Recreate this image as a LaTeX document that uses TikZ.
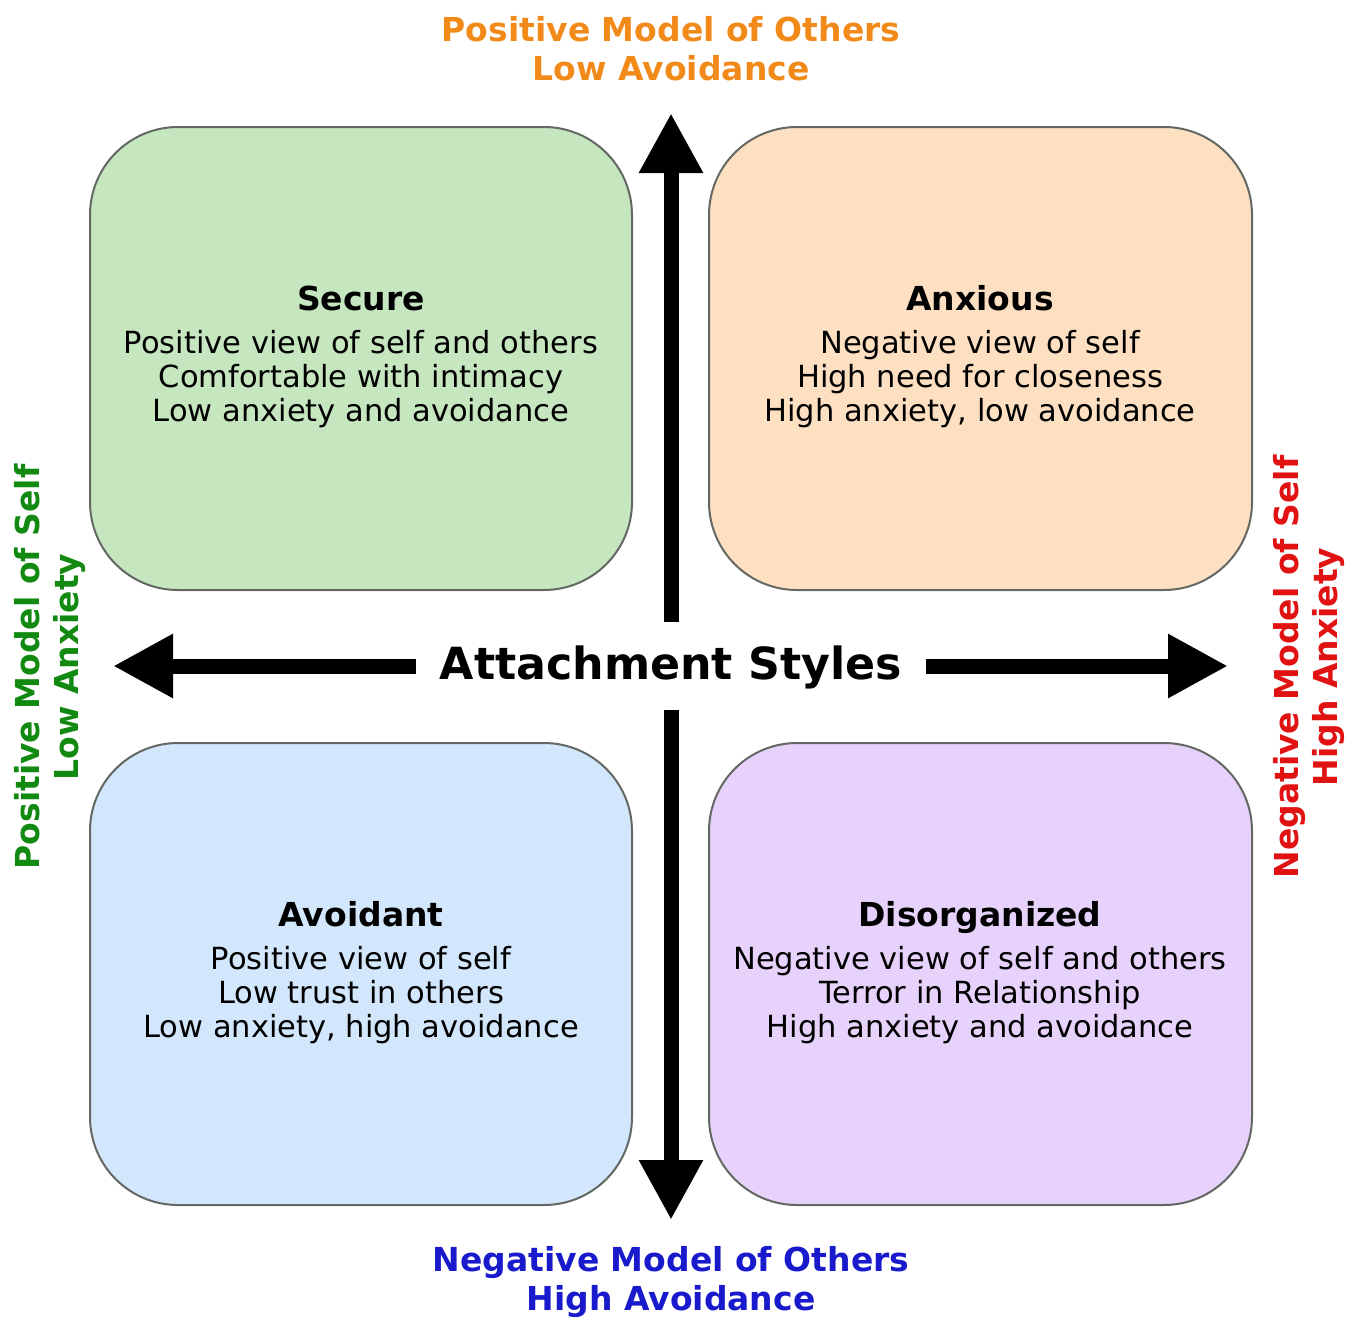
\documentclass[tikz,border=0pt]{standalone}
\usepackage{fontspec}
\setmainfont{DejaVu Sans}
\usetikzlibrary{arrows.meta}
\definecolor{secfill}{HTML}{C5E6BF}
\definecolor{anxfill}{HTML}{FDE0C2}
\definecolor{avofill}{HTML}{D2E6FC}
\definecolor{disfill}{HTML}{E7D2FC}
\definecolor{edgegray}{HTML}{636863}
\definecolor{axorange}{HTML}{F28A1A}
\definecolor{axgreen}{HTML}{128A12}
\definecolor{axblue}{HTML}{1A1ACD}
\definecolor{axred}{HTML}{E01212}
\tikzset{
  quad/.style={draw=edgegray, line width=2pt, rounded corners=88pt},
  title/.style={font=\fontsize{33}{38}\selectfont\bfseries, anchor=base, inner sep=0pt},
  body/.style={font=\fontsize{30.5}{33.8}\selectfont, align=center, anchor=center, inner sep=0pt},
  axlabel/.style={font=\fontsize{33}{39}\selectfont\bfseries, align=center, anchor=center, inner sep=0pt},
  bigarrow/.style={line width=15pt, -{Triangle[length=60pt,width=60pt]}},
}
\begin{document}
\begin{tikzpicture}[x=1pt,y=-1pt]
\useasboundingbox (0,0) rectangle (1348,1341);
% quadrant boxes
\filldraw[quad, fill=secfill] (90,127) rectangle (632,590);
\filldraw[quad, fill=anxfill] (709,127) rectangle (1252,590);
\filldraw[quad, fill=avofill] (90,743) rectangle (632,1205);
\filldraw[quad, fill=disfill] (709,743) rectangle (1252,1205);
% texts
\node[title] (sect) at (361,310) {Secure};
\node[body] (secb) at (361,379) {Positive view of self and others\\Comfortable with intimacy\\Low anxiety and avoidance};
\node[title] (anxt) at (980,310) {Anxious};
\node[body] (anxb) at (980,379) {Negative view of self\\High need for closeness\\High anxiety, low avoidance};
\node[title] (avot) at (361,926) {Avoidant};
\node[body] (avob) at (361,995) {Positive view of self\\Low trust in others\\Low anxiety, high avoidance};
\node[title] (dist) at (980,926) {Disorganized};
\node[body] (disb) at (980,995) {Negative view of self and others\\Terror in Relationship\\High anxiety and avoidance};
% center
\node[font=\fontsize{44.3}{50}\selectfont\bfseries, inner sep=0pt] (center) at (671,667) {Attachment Styles};
% axis ends
\coordinate (upstart) at (671,622);
\coordinate (upend) at (671,113);
\coordinate (downstart) at (671,710);
\coordinate (downend) at (671,1220);
\coordinate (leftstart) at (416,666);
\coordinate (leftend) at (113,666);
\coordinate (rightstart) at (926,666);
\coordinate (rightend) at (1228,666);
\draw[bigarrow] (upstart) -- (upend);
\draw[bigarrow] (downstart) -- (downend);
\draw[bigarrow] (leftstart) -- (leftend);
\draw[bigarrow] (rightstart) -- (rightend);
% axis labels
\node[axlabel, text=axorange] (toplab) at (671,49) {Positive Model of Others\\Low Avoidance};
\node[axlabel, text=axblue] (botlab) at (671,1282) {Negative Model of Others\\High Avoidance};
\node[axlabel, text=axgreen, rotate=90] (leftlab) at (50,667) {Positive Model of Self\\Low Anxiety};
\node[axlabel, text=axred, rotate=90] (rightlab) at (1309,667) {Negative Model of Self\\High Anxiety};
\end{tikzpicture}
\end{document}
